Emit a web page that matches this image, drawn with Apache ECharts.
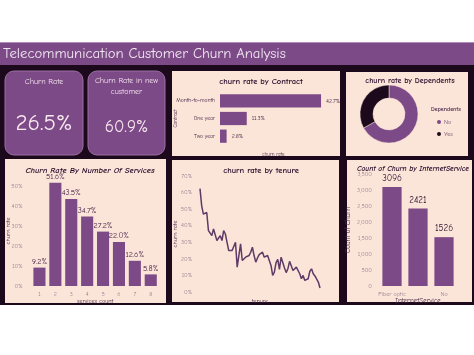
<!DOCTYPE html>
<html><head><meta charset="utf-8">
<script src="https://cdn.jsdelivr.net/npm/echarts@6/dist/echarts.min.js"></script>
<style>html,body{margin:0;padding:0;background:#fff;}#c{width:474px;height:355px;}</style>
</head><body><div id="c"></div>
<script>
const FONT = '"Comic Sans MS", "Comic Neue", cursive';
const dashTitle = 'Telecommunication Customer Churn Analysis';
const kpiLabels = ['Churn Rate', 'Churn Rate in new\ncustomer'];
const kpiValues = ['26.5%', '60.9%'];

const contractCats = ['Month-to-month', 'One year', 'Two year'];
const contractVals = [42.7, 11.3, 2.8];

const depCats = ['No', 'Yes'];
const depVals = [67, 33];

const serviceCats = ['1','2','3','4','5','6','7','8'];
const serviceVals = [9.2, 51.6, 43.5, 34.7, 27.2, 22.0, 12.6, 5.8];

const tenureCats = [];
for (let i = 1; i <= 72; i++) tenureCats.push(String(i));
const tenureVals = [62.4,52,47,47,48,37,38,34,38,38.6,31,32.6,34,31,37,35,30,25,25,25,26,30,15,22,29,19,18,21,20.5,22,24,27,22,18,20.5,22.5,22,24,21,20,22,22.5,16,10,12,17.7,19.7,13.7,21,22,14.5,11.7,14,18.5,17.7,13,13,15,16,11,8,10,7,6,8,12.5,14,11,9.7,9,6,2.4];

const internetCats = ['Fiber optic', 'DSL', 'No'];
const internetVals = [3096, 2421, 1526];

const PURPLE = '#7c4a87', DARK = '#1c0a1c', PANEL = '#fbe5d9', TXT = '#2b0d2b', AX = '#9a8090';

const chart = echarts.init(document.getElementById('c'), null, {renderer: 'canvas'});

function panel(x, y, w, h) {
  return {type: 'rect', shape: {x, y, width: w, height: h}, style: {fill: PANEL}, z: -5};
}
function card(x, y, w, h, label, val, ly, vy, fs) {
  return [
    {type: 'rect', shape: {x, y, width: w, height: h, r: 9}, style: {fill: PURPLE, stroke: '#9a6fa3', lineWidth: 1}, z: -5},
    {type: 'text', x: x + w / 2, y: ly, style: {text: label, fill: '#f4e2ec', font: '8px ' + FONT, align: 'center', verticalAlign: 'top', lineHeight: 11}, z: 5},
    {type: 'text', x: x + w / 2, y: vy, style: {text: val, fill: '#f8e8ef', font: fs + 'px ' + FONT, align: 'center', verticalAlign: 'middle'}, z: 5}
  ];
}

const axisLbl = {fontSize: 6, color: AX, fontFamily: FONT};
const axName = {fontSize: 6, color: '#4a2a4a', fontFamily: FONT};

const option = {
  animation: false,
  backgroundColor: '#ffffff',
  textStyle: {fontFamily: FONT},
  graphic: [
    {type: 'rect', shape: {x: 0, y: 42, width: 474, height: 23}, style: {fill: PURPLE}, z: -10},
    {type: 'rect', shape: {x: 0, y: 42, width: 474, height: 1}, style: {fill: '#b08cba'}, z: -9},
    {type: 'rect', shape: {x: 0, y: 65, width: 474, height: 240}, style: {fill: DARK}, z: -10},
    {type: 'text', x: 3, y: 54, style: {text: dashTitle, fill: '#f1e6f1', font: '14.7px ' + FONT, verticalAlign: 'middle'}, z: 5},
    ...card(5, 71, 78, 84, kpiLabels[0], kpiValues[0], 76, 123, 23),
    ...card(88, 71, 77, 84, kpiLabels[1], kpiValues[1], 75, 127, 17),
    panel(172, 71, 168, 85),
    panel(346, 72, 122, 84),
    panel(5, 159, 161, 144),
    panel(172, 160, 167, 142),
    panel(347, 160, 125, 142),
    {type: 'text', x: 431, y: 109, style: {text: 'Dependents', fill: '#4a2a4a', font: 'bold 6px ' + FONT, verticalAlign: 'middle'}, z: 5}
  ],
  title: [
    {text: 'churn rate by Contract', left: 256, top: 72, textAlign: 'center', textStyle: {fontSize: 8.5, fontWeight: 'bold', color: TXT, fontFamily: FONT}},
    {text: 'churn rate by Dependents', left: 405, top: 72, textAlign: 'center', textStyle: {fontSize: 8, fontWeight: 'bold', color: TXT, fontFamily: FONT}},
    {text: 'Churn Rate By Number Of Services', left: 85, top: 161, textAlign: 'center', textStyle: {fontSize: 8.5, fontWeight: 'bold', fontStyle: 'italic', color: TXT, fontFamily: FONT}},
    {text: 'churn rate by tenure', left: 256, top: 161, textAlign: 'center', textStyle: {fontSize: 8.5, fontWeight: 'bold', color: TXT, fontFamily: FONT}},
    {text: 'Count of Churn by InternetService', left: 408, top: 160, textAlign: 'center', textStyle: {fontSize: 7.5, fontWeight: 'bold', fontStyle: 'italic', color: TXT, fontFamily: FONT}}
  ],
  legend: {
    data: depCats, orient: 'vertical', left: 430, top: 113, itemGap: 4, itemWidth: 6, itemHeight: 6, icon: 'circle',
    textStyle: {fontSize: 6, color: '#6a4a6a', fontFamily: FONT, padding: [0, 0, 0, -3]}
  },
  grid: [
    {left: 220, top: 92, width: 106.5, height: 53},
    {left: 31.5, right: 315.3, top: 176, height: 110},
    {left: 200, right: 154, top: 176, height: 116},
    {left: 379, right: 17, top: 174, height: 112}
  ],
  xAxis: [
    {gridIndex: 0, type: 'value', min: 0, max: 45, show: true, axisLabel: {show: false}, axisLine: {show: false}, axisTick: {show: false}, splitLine: {show: false},
      name: 'churn rate', nameLocation: 'middle', nameGap: 7, nameMoveOverlap: false, nameTextStyle: {fontSize: 5, color: '#4a2a4a', fontFamily: FONT}},
    {gridIndex: 1, type: 'category', data: serviceCats, axisLine: {show: false}, axisTick: {show: false}, axisLabel: Object.assign({margin: 5}, axisLbl),
      name: 'services count', nameLocation: 'middle', nameGap: 12, nameMoveOverlap: false, nameTextStyle: axName},
    {gridIndex: 2, type: 'category', data: tenureCats, boundaryGap: false, axisLine: {show: false}, axisTick: {show: false}, axisLabel: {show: false},
      name: 'tenure', nameLocation: 'middle', nameGap: 6, nameMoveOverlap: false, nameTextStyle: axName},
    {gridIndex: 3, type: 'category', data: internetCats, axisLine: {show: false}, axisTick: {show: false}, axisLabel: Object.assign({margin: 5}, axisLbl),
      name: 'InternetService', nameLocation: 'middle', nameGap: 12, nameMoveOverlap: false, nameTextStyle: {fontSize: 7, color: '#4a2a4a', fontFamily: FONT}}
  ],
  yAxis: [
    {gridIndex: 0, type: 'category', data: contractCats, inverse: true, axisLine: {show: false}, axisTick: {show: false},
      axisLabel: {fontSize: 5.5, color: '#3a1a3a', fontFamily: FONT, margin: 5},
      name: 'Contract', nameLocation: 'middle', nameGap: 42, nameRotate: 90, nameMoveOverlap: false, nameTextStyle: {fontSize: 5, color: '#3a1a3a', fontFamily: FONT}},
    {gridIndex: 1, type: 'value', min: 0, max: 55, interval: 10, axisLine: {show: false}, axisTick: {show: false}, splitLine: {show: false},
      axisLabel: Object.assign({margin: 9, showMaxLabel: false, formatter: v => (v % 10 === 0 ? v + '%' : '')}, axisLbl),
      name: 'churn rate', nameLocation: 'middle', nameGap: 20, nameRotate: 90, nameMoveOverlap: false, nameTextStyle: axName},
    {gridIndex: 2, type: 'value', min: 0, max: 70, interval: 10, axisLine: {show: false}, axisTick: {show: false}, splitLine: {show: false},
      axisLabel: Object.assign({margin: 8, formatter: v => v + '%'}, axisLbl),
      name: 'churn rate', nameLocation: 'middle', nameGap: 22, nameRotate: 90, nameMoveOverlap: false, nameTextStyle: axName},
    {gridIndex: 3, type: 'value', min: 0, max: 3500, interval: 500, axisLine: {show: false}, axisTick: {show: false}, splitLine: {show: false},
      axisLabel: Object.assign({margin: 7, formatter: v => v.toLocaleString('en-US')}, axisLbl),
      name: 'Count of Churn', nameLocation: 'middle', nameGap: 27, nameRotate: 90, nameMoveOverlap: false, nameTextStyle: {fontSize: 7, color: '#4a2a4a', fontFamily: FONT}}
  ],
  series: [
    {type: 'bar', xAxisIndex: 0, yAxisIndex: 0, data: contractVals, barCategoryGap: '25%', itemStyle: {color: PURPLE},
      label: {show: true, position: 'right', distance: 5, fontSize: 6, color: '#3a1a3a', fontFamily: FONT, formatter: p => p.value.toFixed(1) + '%'}},
    {type: 'pie', center: [389, 114], radius: [16, 29], data: depCats.map((n, i) => ({name: n, value: depVals[i]})),
      color: [PURPLE, DARK], label: {show: false}, labelLine: {show: false}, itemStyle: {borderColor: PANEL, borderWidth: 0.5}},
    {type: 'bar', xAxisIndex: 1, yAxisIndex: 1, data: serviceVals, barCategoryGap: '24%', itemStyle: {color: PURPLE},
      label: {show: true, position: 'top', distance: 2, fontSize: 8, color: '#3d1a3f', fontFamily: FONT, formatter: p => p.value.toFixed(1) + '%'}},
    {type: 'line', xAxisIndex: 2, yAxisIndex: 2, data: tenureVals, symbol: 'none', lineStyle: {color: '#5e3a66', width: 1.5}},
    {type: 'bar', xAxisIndex: 3, yAxisIndex: 3, data: internetVals, barCategoryGap: '26%', itemStyle: {color: PURPLE},
      label: {show: true, position: 'top', distance: 4, fontSize: 9, color: '#2b0d2b', fontFamily: FONT}}
  ]
};
chart.setOption(option);
</script></body></html>
